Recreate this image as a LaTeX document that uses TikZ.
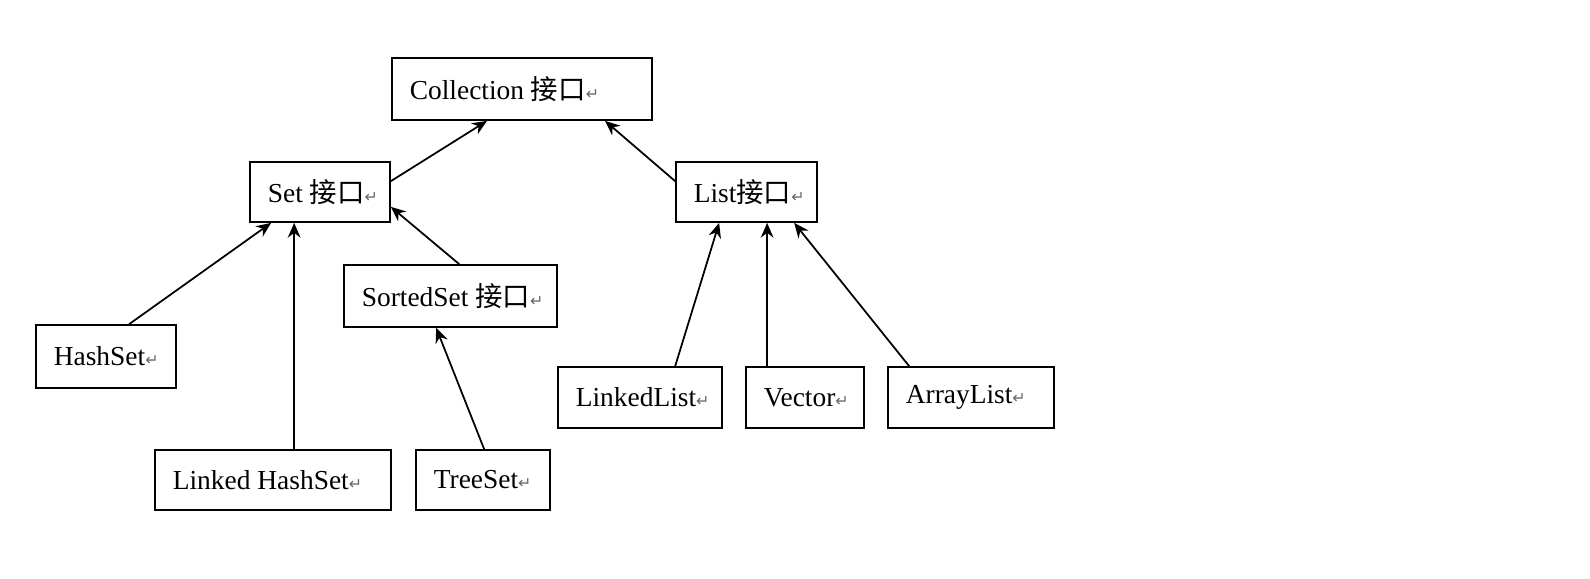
\documentclass[tikz,border=0pt]{standalone}
\usepackage{fontspec}
\setmainfont{Liberation Serif}
\newfontfamily\cjk{Noto Sans CJK SC}
\newfontfamily\sym{DejaVu Sans}
\usetikzlibrary{arrows.meta}
\newcommand{\rt}{{\sym\fontsize{4.5}{5}\selectfont\textcolor{black!60}{↵}}}
\newcommand{\jk}{{\cjk 接口}}
\begin{document}
\begin{tikzpicture}[x=0.01cm,y=-0.01cm,
  box/.style={draw,line width=0.5pt,inner sep=0pt},
  txt/.style={anchor=west,inner sep=0pt,font=\fontsize{7.8}{9}\selectfont},
  arr/.style={-{Stealth[length=4.2pt,width=3.6pt]},line width=0.5pt}]
\fill[white] (0,0) rectangle (1590,578);
\useasboundingbox (0,0) rectangle (1590,578);
\newcommand{\bx}[6]{\node[box,minimum width={(#4-#2)*0.01cm},minimum height={(#5-#3)*0.01cm}] (#1) at ({(#2+#4)/2},{(#3+#5)/2}) {};
  \node[txt] (#1t) at ([xshift=0.18cm]#1.west) {#6};}
\bx{coll}{392}{58}{652}{120}{Collection \jk\rt}
\bx{set}{250}{162}{390}{222}{Set \jk\rt}
\bx{list}{676}{162}{817}{222}{List\jk\rt}
\bx{sorted}{344}{265}{557}{327}{SortedSet \jk\rt}
\bx{hash}{36}{325}{176}{388}{HashSet\rt}
\bx{lhash}{155}{450}{391}{510}{Linked HashSet\rt}
\bx{tree}{416}{450}{550}{510}{TreeSet\rt}
\bx{llist}{558}{367}{722}{428}{LinkedList\rt}
\bx{vec}{746}{367}{864}{428}{Vector\rt}
\bx{alist}{888}{367}{1054}{428}{ArrayList\rt}
\draw[arr] ([yshift=-0.2cm]set.north east) -- ([xshift=-0.35cm]coll.south);
\draw[arr] ([yshift=-0.2cm]list.north west) -- ([xshift=0.83cm]coll.south);
\draw[arr] ([xshift=0.94cm]hash.north west) -- ([xshift=0.22cm]set.south west);
\draw[arr] ([xshift=0.45cm]set.south west |- lhash.north) -- ([xshift=0.45cm]set.south west);
\draw[arr] ([xshift=1.16cm]sorted.north west) -- ([yshift=0.16cm]set.south east);
\draw[arr] ([xshift=0.69cm]tree.north west) -- ([xshift=0.93cm]sorted.south west);
\draw[arr] ([xshift=1.18cm]llist.north west) -- ([xshift=0.44cm]list.south west);
\draw[arr] ([xshift=0.22cm]vec.north west) -- ([xshift=0.22cm]vec.north west |- list.south);
\draw[arr] ([xshift=0.22cm]alist.north west) -- ([xshift=1.19cm]list.south west);
\end{tikzpicture}
\end{document}
